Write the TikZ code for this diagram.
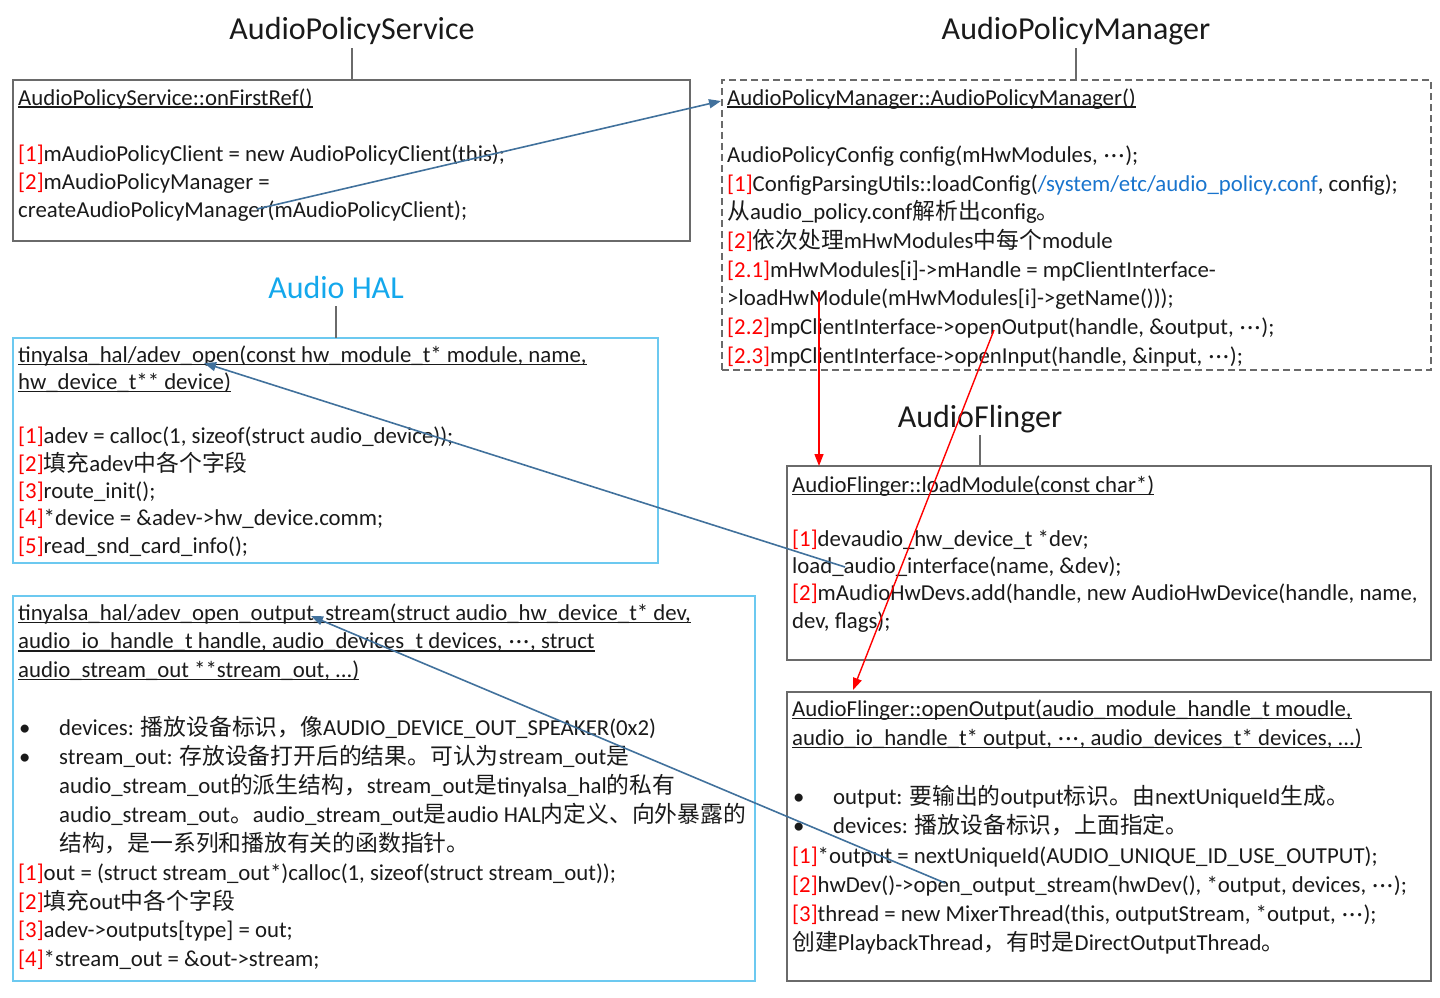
\documentclass[tikz,border=0pt]{standalone}
\usepackage{fontspec}
\setmainfont{Carlito}
\newfontfamily\cjk{Noto Sans CJK SC}
\usetikzlibrary{arrows.meta}
\definecolor{boxgray}{HTML}{6A6A6A}
\definecolor{halblue}{HTML}{6CC9F0}
\definecolor{haltitle}{HTML}{14A8EC}
\definecolor{pathblue}{HTML}{1874CD}
\definecolor{arrblue}{HTML}{41719C}
\definecolor{txtblack}{HTML}{1A1A1A}
\definecolor{arrred}{HTML}{FF0000}
\newcommand\zh[1]{{\cjk #1}}
\newcommand\rn[1]{\textcolor{red}{[#1]}}
\newcommand\ulx[1]{\setbox0=\hbox{#1}\rlap{\rule[-2.6pt]{\wd0}{1.1pt}}\box0}
\newcommand\row[1]{\hbox{#1}}
\newcommand\bul{\hbox to 41pt{\kern1pt\textbullet\hfil}}
\newcommand\ind{\kern41pt}
\newcommand\cdts{\kern1pt·\kern1.6pt·\kern1.6pt·\kern1pt}
\newcommand\block[2]{\vtop{\baselineskip=#1pt\lineskiplimit=-1000pt\lineskip=0pt #2}}
\newcommand\bodyfont{\fontsize{22.8}{28}\selectfont}
\newcommand\titlefont{\fontsize{32}{38}\selectfont}
\tikzset{
  box/.style={draw=boxgray, line width=1.3pt, rectangle, inner sep=0pt, outer sep=0pt, anchor=north west},
  halbox/.style={box, draw=halblue, line width=1.5pt},
  dbox/.style={box, dash pattern=on 7pt off 4pt},
  txt/.style={anchor=base west, inner sep=0pt, font=\bodyfont, text=txtblack},
  ttl/.style={anchor=base, inner sep=0pt, font=\titlefont, text=txtblack, text depth=8pt},
  stem/.style={draw=boxgray, line width=1.2pt},
  barrow/.style={draw=arrblue, line width=1.6pt, -{Triangle[length=12pt,width=9pt]}},
  rarrow/.style={draw=arrred, line width=1.4pt, -{Triangle[length=12pt,width=9pt]}}
}
\begin{document}
\begin{tikzpicture}[x=1pt,y=-1pt]
\useasboundingbox (0,0) rectangle (1440,998);
% boxes
\node[box, minimum width=677pt, minimum height=161pt] (aps) at (13,80) {};
\node[dbox, minimum width=709pt, minimum height=290pt] (apm) at (722,80) {};
\node[halbox, minimum width=645pt, minimum height=225pt] (hal) at (13,338) {};
\node[box, minimum width=644pt, minimum height=194pt] (lm) at (787,466) {};
\node[box, minimum width=644pt, minimum height=289pt] (oo) at (787,692) {};
\node[halbox, minimum width=742pt, minimum height=385pt] (bl) at (13,596) {};
% titles
\node[ttl] (apsTitle) at (352,40) {AudioPolicyService};
\node[ttl] (apmTitle) at (1076,40) {AudioPolicyManager};
\node[ttl, text=haltitle] (halTitle) at (336,298) {Audio HAL};
\node[ttl] (afTitle) at (980,427) {AudioFlinger};
\draw[stem] (apsTitle.south) -- (apsTitle.south |- aps.north);
\draw[stem] (apmTitle.south) -- (apmTitle.south |- apm.north);
\draw[stem] (halTitle.south) -- (halTitle.south |- hal.north);
\draw[stem] (afTitle.south) -- (afTitle.south |- lm.north);
% texts
\node[txt] (apsText) at (18,105) {\block{28}{%
\row{\ulx{AudioPolicyService::onFirstRef()}}
\row{}
\row{\rn{1}mAudioPolicyClient = new AudioPolicyClient(this);}
\row{\rn{2}mAudioPolicyManager =}
\row{createAudioPolicyManager(mAudioPolicyClient);}}};
\node[txt] (apmText) at (727,105) {\block{28.7}{%
\row{\ulx{AudioPolicyManager::AudioPolicyManager()}}
\row{}
\row{AudioPolicyConfig config(mHwModules, \cdts);}
\row{\rn{1}ConfigParsingUtils::loadConfig(\textcolor{pathblue}{/system/etc/audio\_policy.conf}, config);}
\row{\zh{从}audio\_policy.conf\zh{解析出}config\zh{。}}
\row{\rn{2}\zh{依次处理}mHwModules\zh{中每个}module}
\row{\rn{2.1}mHwModules[i]->mHandle = mpClientInterface-}
\row{>loadHwModule(mHwModules[i]->getName()));}
\row{\rn{2.2}mpClientInterface->openOutput(handle, \&output, \cdts);}
\row{\rn{2.3}mpClientInterface->openInput(handle, \&input, \cdts);}}};
\node[txt] (halText) at (18,362) {\block{27.3}{%
\row{\ulx{tinyalsa\_hal/adev\_open(const hw\_module\_t* module, name,}}
\row{\ulx{hw\_device\_t** device)}}
\row{}
\row{\rn{1}adev = calloc(1, sizeof(struct audio\_device));}
\row{\rn{2}\zh{填充}adev\zh{中各个字段}}
\row{\rn{3}route\_init();}
\row{\rn{4}*device = \&adev->hw\_device.comm;}
\row{\rn{5}read\_snd\_card\_info();}}};
\node[txt] (lmText) at (792,492) {\block{27.2}{%
\row{\ulx{AudioFlinger::loadModule(const char*)}}
\row{}
\row{\rn{1}devaudio\_hw\_device\_t *dev;}
\row{load\_audio\_interface(name, \&dev);}
\row{\rn{2}mAudioHwDevs.add(handle, new AudioHwDevice(handle, name,}
\row{dev, flags);}}};
\node[txt] (ooText) at (792,716.5) {\block{29.3}{%
\row{\ulx{AudioFlinger::openOutput(audio\_module\_handle\_t moudle,}}
\row{\ulx{audio\_io\_handle\_t* output, \cdts, audio\_devices\_t* devices, ...)}}
\row{}
\row{\bul output: \zh{要输出的}output\zh{标识。由}nextUniqueId\zh{生成。}}
\row{\bul devices: \zh{播放设备标识，上面指定。}}
\row{\rn{1}*output = nextUniqueId(AUDIO\_UNIQUE\_ID\_USE\_OUTPUT);}
\row{\rn{2}hwDev()->open\_output\_stream(hwDev(), *output, devices, \cdts);}
\row{\rn{3}thread = new MixerThread(this, outputStream, *output, \cdts);}
\row{\zh{创建}PlaybackThread\zh{，有时是}DirectOutputThread\zh{。}}}};
\node[txt] (blText) at (18,620) {\block{28.9}{%
\row{\ulx{tinyalsa\_hal/adev\_open\_output\_stream(struct audio\_hw\_device\_t* dev,}}
\row{\ulx{audio\_io\_handle\_t handle, audio\_devices\_t devices, \cdts, struct}}
\row{\ulx{audio\_stream\_out **stream\_out, ...)}}
\row{}
\row{\bul devices: \zh{播放设备标识，像}AUDIO\_DEVICE\_OUT\_SPEAKER(0x2)}
\row{\bul stream\_out: \zh{存放设备打开后的结果。可认为}stream\_out\zh{是}}
\row{\ind audio\_stream\_out\zh{的派生结构，}stream\_out\zh{是}tinyalsa\_hal\zh{的私有}}
\row{\ind audio\_stream\_out\zh{。}audio\_stream\_out\zh{是}audio HAL\zh{内定义、向外暴露的}}
\row{\ind \zh{结构，是一系列和播放有关的函数指针。}}
\row{\rn{1}out = (struct stream\_out*)calloc(1, sizeof(struct stream\_out));}
\row{\rn{2}\zh{填充}out\zh{中各个字段}}
\row{\rn{3}adev->outputs[type] = out;}
\row{\rn{4}*stream\_out = \&out->stream;}}};
% connector end points
\coordinate (b1s) at (257,209);
\coordinate (b1e) at (721,101);
\coordinate (b2s) at (845,567);
\coordinate (b2e) at (204,363);
\coordinate (b3s) at (945,883);
\coordinate (b3e) at (311,616);
\coordinate (r1s) at (819,292);
\coordinate (r2s) at (994,330);
\coordinate (r2e) at (853,690);
\draw[barrow] (b1s) -- (b1e);
\draw[barrow] (b2s) -- (b2e);
\draw[barrow] (b3s) -- (b3e);
\draw[rarrow] (r1s) -- (r1s |- lm.north);
\draw[rarrow] (r2s) -- (r2e);
\end{tikzpicture}
\end{document}
